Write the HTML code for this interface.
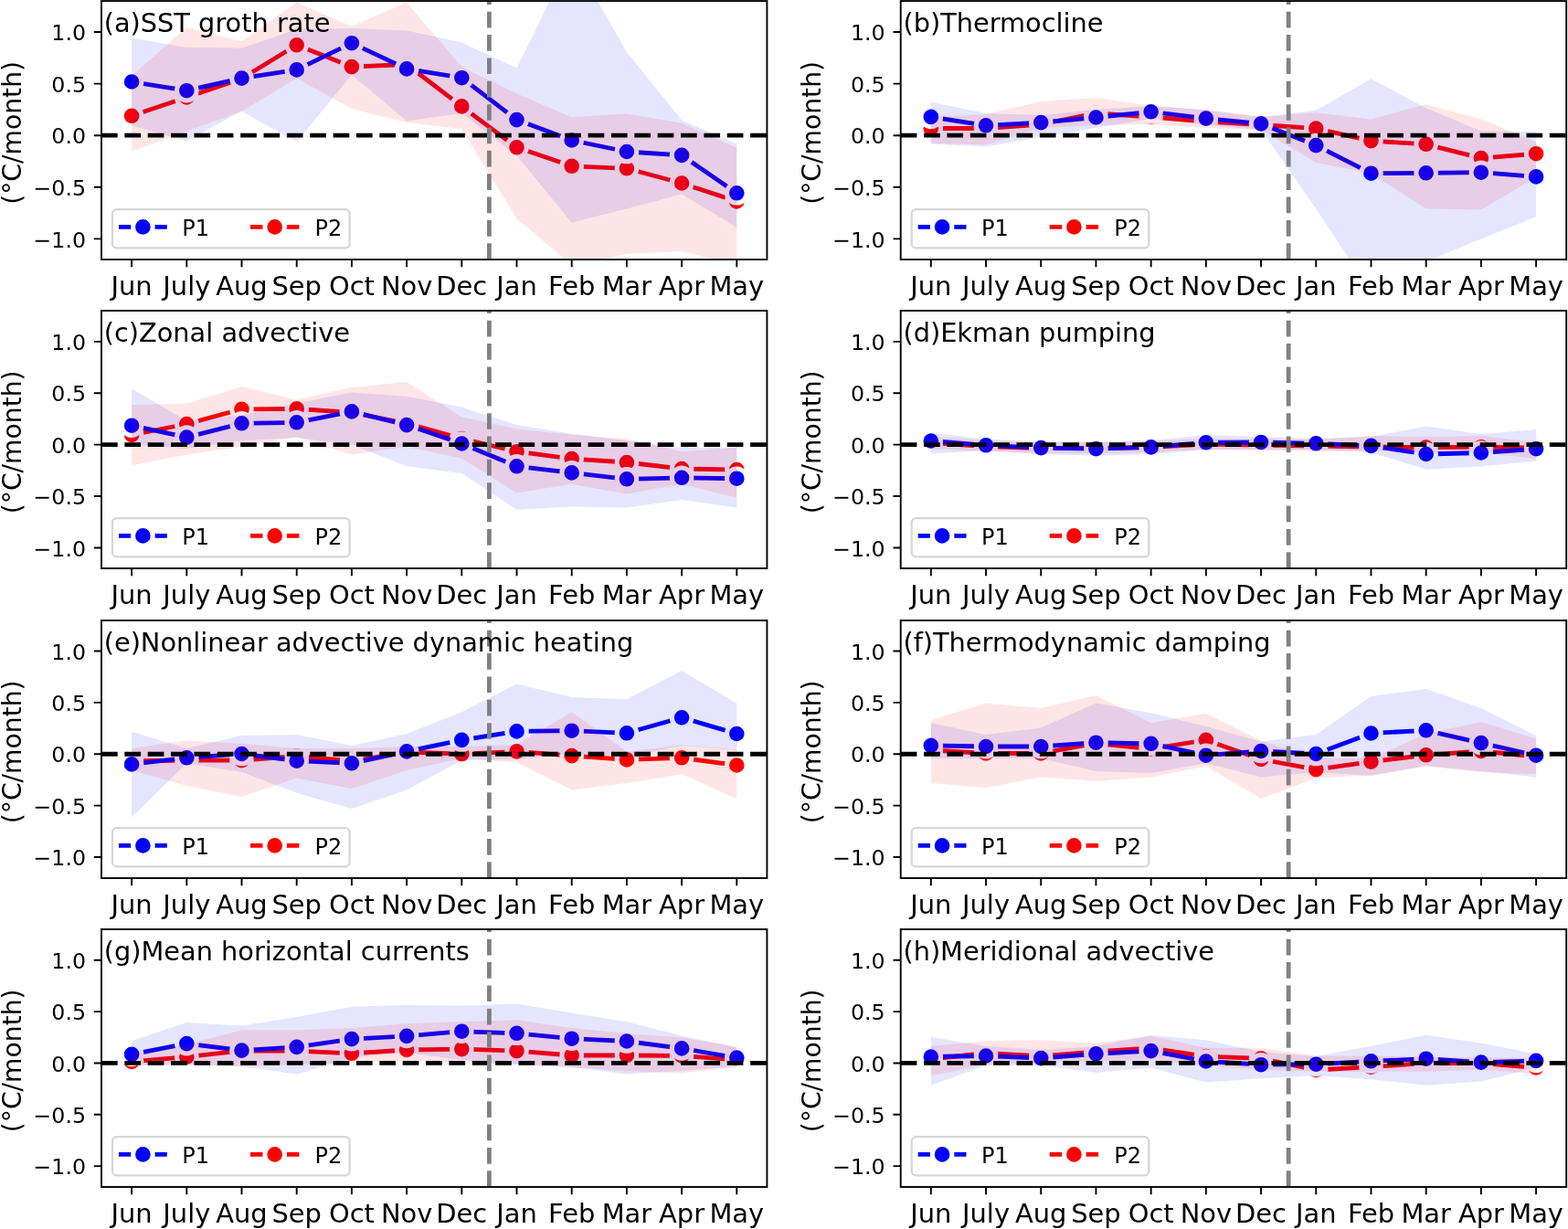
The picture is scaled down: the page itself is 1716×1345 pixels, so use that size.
<!DOCTYPE html>
<html><head><meta charset="utf-8"><title>Figure</title>
<style>html,body{margin:0;padding:0;background:#fff;overflow:hidden;} svg{display:block;} text{font-family:'DejaVu Sans', 'Liberation Sans', sans-serif;}</style>
</head><body>
<svg width="1716" height="1345" viewBox="0 0 1716 1345">
<rect x="0" y="0" width="1716" height="1345" fill="#ffffff"/>
<defs>
<clipPath id="clipa"><rect x="111" y="1.1" width="728.4" height="282.9"/></clipPath>
<clipPath id="clipb"><rect x="985.7" y="1.1" width="728.5" height="282.9"/></clipPath>
<clipPath id="clipc"><rect x="111" y="340" width="728.4" height="282"/></clipPath>
<clipPath id="clipd"><rect x="985.7" y="340" width="728.5" height="282"/></clipPath>
<clipPath id="clipe"><rect x="111" y="679" width="728.4" height="282"/></clipPath>
<clipPath id="clipf"><rect x="985.7" y="679" width="728.5" height="282"/></clipPath>
<clipPath id="clipg"><rect x="111" y="1017" width="728.4" height="282"/></clipPath>
<clipPath id="cliph"><rect x="985.7" y="1017" width="728.5" height="282"/></clipPath>
</defs>
<g clip-path="url(#clipa)">
<polyline points="144.11,126.8 204.31,106.5 264.51,86 324.7,49.3 384.9,73.1 445.1,70.5 505.3,116.4 565.5,161.3 625.7,181.8 685.89,184.3 746.09,200.5 806.29,220.4" fill="none" stroke="#ff0000" stroke-width="4.8" stroke-linejoin="round" stroke-linecap="square"/>
<circle cx="144.11" cy="126.8" r="10.8" fill="#ff0000" stroke="#ffffff" stroke-width="5.0"/>
<circle cx="204.31" cy="106.5" r="10.8" fill="#ff0000" stroke="#ffffff" stroke-width="5.0"/>
<circle cx="264.51" cy="86" r="10.8" fill="#ff0000" stroke="#ffffff" stroke-width="5.0"/>
<circle cx="324.7" cy="49.3" r="10.8" fill="#ff0000" stroke="#ffffff" stroke-width="5.0"/>
<circle cx="384.9" cy="73.1" r="10.8" fill="#ff0000" stroke="#ffffff" stroke-width="5.0"/>
<circle cx="445.1" cy="70.5" r="10.8" fill="#ff0000" stroke="#ffffff" stroke-width="5.0"/>
<circle cx="505.3" cy="116.4" r="10.8" fill="#ff0000" stroke="#ffffff" stroke-width="5.0"/>
<circle cx="565.5" cy="161.3" r="10.8" fill="#ff0000" stroke="#ffffff" stroke-width="5.0"/>
<circle cx="625.7" cy="181.8" r="10.8" fill="#ff0000" stroke="#ffffff" stroke-width="5.0"/>
<circle cx="685.89" cy="184.3" r="10.8" fill="#ff0000" stroke="#ffffff" stroke-width="5.0"/>
<circle cx="746.09" cy="200.5" r="10.8" fill="#ff0000" stroke="#ffffff" stroke-width="5.0"/>
<circle cx="806.29" cy="220.4" r="10.8" fill="#ff0000" stroke="#ffffff" stroke-width="5.0"/>
<polyline points="144.11,89.5 204.31,99.2 264.51,85.6 324.7,76.4 384.9,47.2 445.1,75.4 505.3,85.2 565.5,131.1 625.7,153.5 685.89,166 746.09,169.9 806.29,211.3" fill="none" stroke="#0000ff" stroke-width="4.8" stroke-linejoin="round" stroke-linecap="square"/>
<circle cx="144.11" cy="89.5" r="10.8" fill="#0000ff" stroke="#ffffff" stroke-width="5.0"/>
<circle cx="204.31" cy="99.2" r="10.8" fill="#0000ff" stroke="#ffffff" stroke-width="5.0"/>
<circle cx="264.51" cy="85.6" r="10.8" fill="#0000ff" stroke="#ffffff" stroke-width="5.0"/>
<circle cx="324.7" cy="76.4" r="10.8" fill="#0000ff" stroke="#ffffff" stroke-width="5.0"/>
<circle cx="384.9" cy="47.2" r="10.8" fill="#0000ff" stroke="#ffffff" stroke-width="5.0"/>
<circle cx="445.1" cy="75.4" r="10.8" fill="#0000ff" stroke="#ffffff" stroke-width="5.0"/>
<circle cx="505.3" cy="85.2" r="10.8" fill="#0000ff" stroke="#ffffff" stroke-width="5.0"/>
<circle cx="565.5" cy="131.1" r="10.8" fill="#0000ff" stroke="#ffffff" stroke-width="5.0"/>
<circle cx="625.7" cy="153.5" r="10.8" fill="#0000ff" stroke="#ffffff" stroke-width="5.0"/>
<circle cx="685.89" cy="166" r="10.8" fill="#0000ff" stroke="#ffffff" stroke-width="5.0"/>
<circle cx="746.09" cy="169.9" r="10.8" fill="#0000ff" stroke="#ffffff" stroke-width="5.0"/>
<circle cx="806.29" cy="211.3" r="10.8" fill="#0000ff" stroke="#ffffff" stroke-width="5.0"/>
<polygon points="144.11,41.4 204.31,52.1 264.51,52.7 324.7,32.1 384.9,31 445.1,33.5 505.3,46.4 565.5,74.4 625.7,-48.5 685.89,57.1 746.09,131.5 806.29,157.4 806.29,249 746.09,212.4 685.89,228.5 625.7,243.6 565.5,170.3 505.3,124 445.1,132.5 384.9,81.7 324.7,155.3 264.51,121.7 204.31,154.4 144.11,137.2" fill="#0000ff" fill-opacity="0.1" stroke="none"/>
<polygon points="144.11,83 204.31,30.1 264.51,45.6 324.7,2.7 384.9,28.8 445.1,2.7 505.3,73.3 565.5,102.4 625.7,128.3 685.89,124.6 746.09,134.8 806.29,161.7 806.29,290 746.09,275 685.89,278 625.7,290 565.5,239.3 505.3,141.2 445.1,133.9 384.9,119.1 324.7,85.7 264.51,121.7 204.31,143.7 144.11,165.7" fill="#ff0000" fill-opacity="0.1" stroke="none"/>
<line x1="111" y1="148.21" x2="839.4" y2="148.21" stroke="#000000" stroke-width="4.78" stroke-dasharray="17.7 7.66"/>
<line x1="535.4" y1="284" x2="535.4" y2="1.1" stroke="#808080" stroke-width="4.78" stroke-dasharray="17.7 7.66"/>
</g>
<text x="113.7" y="35" font-size="28.8" fill="#000">(a)SST groth rate</text>
<rect x="123" y="229.2" width="259.6" height="42.2" rx="4.6" ry="4.6" fill="#ffffff" fill-opacity="0.8" stroke="#d6d6d6" stroke-width="2.2"/>
<line x1="130" y1="248.4" x2="182.8" y2="248.4" stroke="#0000ff" stroke-width="4.8"/>
<circle cx="156.4" cy="248.4" r="10.8" fill="#0000ff" stroke="#ffffff" stroke-width="5.0"/>
<text x="199.3" y="257.7" font-size="24.0" fill="#000">P1</text>
<line x1="274" y1="248.4" x2="327.4" y2="248.4" stroke="#ff0000" stroke-width="4.8"/>
<circle cx="300.7" cy="248.4" r="10.8" fill="#ff0000" stroke="#ffffff" stroke-width="5.0"/>
<text x="344.6" y="257.7" font-size="24.0" fill="#000">P2</text>
<rect x="111" y="1.1" width="728.4" height="282.9" fill="none" stroke="#000" stroke-width="1.9"/>
<path d="M144.11,284v8.2 M204.31,284v8.2 M264.51,284v8.2 M324.7,284v8.2 M384.9,284v8.2 M445.1,284v8.2 M505.3,284v8.2 M565.5,284v8.2 M625.7,284v8.2 M685.89,284v8.2 M746.09,284v8.2 M806.29,284v8.2 M111,261.37h-8.2 M111,204.79h-8.2 M111,148.21h-8.2 M111,91.63h-8.2 M111,35.05h-8.2" stroke="#000" stroke-width="1.9" fill="none"/>
<text x="144.11" y="322.7" font-size="28.9" text-anchor="middle" fill="#000">Jun</text>
<text x="204.31" y="322.7" font-size="28.9" text-anchor="middle" fill="#000">July</text>
<text x="264.51" y="322.7" font-size="28.9" text-anchor="middle" fill="#000">Aug</text>
<text x="324.7" y="322.7" font-size="28.9" text-anchor="middle" fill="#000">Sep</text>
<text x="384.9" y="322.7" font-size="28.9" text-anchor="middle" fill="#000">Oct</text>
<text x="445.1" y="322.7" font-size="28.9" text-anchor="middle" fill="#000">Nov</text>
<text x="505.3" y="322.7" font-size="28.9" text-anchor="middle" fill="#000">Dec</text>
<text x="565.5" y="322.7" font-size="28.9" text-anchor="middle" fill="#000">Jan</text>
<text x="625.7" y="322.7" font-size="28.9" text-anchor="middle" fill="#000">Feb</text>
<text x="685.89" y="322.7" font-size="28.9" text-anchor="middle" fill="#000">Mar</text>
<text x="746.09" y="322.7" font-size="28.9" text-anchor="middle" fill="#000">Apr</text>
<text x="806.29" y="322.7" font-size="28.9" text-anchor="middle" fill="#000">May</text>
<text x="94" y="270.57" font-size="23.7" text-anchor="end" fill="#000">−1.0</text>
<text x="94" y="213.99" font-size="23.7" text-anchor="end" fill="#000">−0.5</text>
<text x="94" y="157.41" font-size="23.7" text-anchor="end" fill="#000">0.0</text>
<text x="94" y="100.83" font-size="23.7" text-anchor="end" fill="#000">0.5</text>
<text x="94" y="44.25" font-size="23.7" text-anchor="end" fill="#000">1.0</text>
<text transform="translate(22.8,145.35) rotate(-90)" font-size="28.2" text-anchor="middle" fill="#000">(°C/month)</text>
<g clip-path="url(#clipb)">
<polyline points="1018.81,140.5 1079.02,140.5 1139.23,136 1199.43,123.8 1259.64,128 1319.85,133 1380.05,136.5 1440.26,140.6 1500.47,154.2 1560.67,157.8 1620.88,173.1 1681.09,168.2" fill="none" stroke="#ff0000" stroke-width="4.8" stroke-linejoin="round" stroke-linecap="square"/>
<circle cx="1018.81" cy="140.5" r="10.8" fill="#ff0000" stroke="#ffffff" stroke-width="5.0"/>
<circle cx="1079.02" cy="140.5" r="10.8" fill="#ff0000" stroke="#ffffff" stroke-width="5.0"/>
<circle cx="1139.23" cy="136" r="10.8" fill="#ff0000" stroke="#ffffff" stroke-width="5.0"/>
<circle cx="1199.43" cy="123.8" r="10.8" fill="#ff0000" stroke="#ffffff" stroke-width="5.0"/>
<circle cx="1259.64" cy="128" r="10.8" fill="#ff0000" stroke="#ffffff" stroke-width="5.0"/>
<circle cx="1319.85" cy="133" r="10.8" fill="#ff0000" stroke="#ffffff" stroke-width="5.0"/>
<circle cx="1380.05" cy="136.5" r="10.8" fill="#ff0000" stroke="#ffffff" stroke-width="5.0"/>
<circle cx="1440.26" cy="140.6" r="10.8" fill="#ff0000" stroke="#ffffff" stroke-width="5.0"/>
<circle cx="1500.47" cy="154.2" r="10.8" fill="#ff0000" stroke="#ffffff" stroke-width="5.0"/>
<circle cx="1560.67" cy="157.8" r="10.8" fill="#ff0000" stroke="#ffffff" stroke-width="5.0"/>
<circle cx="1620.88" cy="173.1" r="10.8" fill="#ff0000" stroke="#ffffff" stroke-width="5.0"/>
<circle cx="1681.09" cy="168.2" r="10.8" fill="#ff0000" stroke="#ffffff" stroke-width="5.0"/>
<polyline points="1018.81,127.9 1079.02,137.3 1139.23,134.1 1199.43,128.5 1259.64,122.3 1319.85,129.6 1380.05,135.4 1440.26,159.1 1500.47,189.7 1560.67,189.3 1620.88,188.7 1681.09,193.4" fill="none" stroke="#0000ff" stroke-width="4.8" stroke-linejoin="round" stroke-linecap="square"/>
<circle cx="1018.81" cy="127.9" r="10.8" fill="#0000ff" stroke="#ffffff" stroke-width="5.0"/>
<circle cx="1079.02" cy="137.3" r="10.8" fill="#0000ff" stroke="#ffffff" stroke-width="5.0"/>
<circle cx="1139.23" cy="134.1" r="10.8" fill="#0000ff" stroke="#ffffff" stroke-width="5.0"/>
<circle cx="1199.43" cy="128.5" r="10.8" fill="#0000ff" stroke="#ffffff" stroke-width="5.0"/>
<circle cx="1259.64" cy="122.3" r="10.8" fill="#0000ff" stroke="#ffffff" stroke-width="5.0"/>
<circle cx="1319.85" cy="129.6" r="10.8" fill="#0000ff" stroke="#ffffff" stroke-width="5.0"/>
<circle cx="1380.05" cy="135.4" r="10.8" fill="#0000ff" stroke="#ffffff" stroke-width="5.0"/>
<circle cx="1440.26" cy="159.1" r="10.8" fill="#0000ff" stroke="#ffffff" stroke-width="5.0"/>
<circle cx="1500.47" cy="189.7" r="10.8" fill="#0000ff" stroke="#ffffff" stroke-width="5.0"/>
<circle cx="1560.67" cy="189.3" r="10.8" fill="#0000ff" stroke="#ffffff" stroke-width="5.0"/>
<circle cx="1620.88" cy="188.7" r="10.8" fill="#0000ff" stroke="#ffffff" stroke-width="5.0"/>
<circle cx="1681.09" cy="193.4" r="10.8" fill="#0000ff" stroke="#ffffff" stroke-width="5.0"/>
<polygon points="1018.81,111.7 1079.02,124 1139.23,126 1199.43,120 1259.64,116 1319.85,120 1380.05,128 1440.26,120.7 1500.47,86.2 1560.67,118.2 1620.88,143.4 1681.09,144 1681.09,237.2 1620.88,261.4 1560.67,286 1500.47,320 1440.26,228.5 1380.05,142 1319.85,137 1259.64,130 1199.43,140 1139.23,150 1079.02,160.6 1018.81,157.4" fill="#0000ff" fill-opacity="0.1" stroke="none"/>
<polygon points="1018.81,128 1079.02,125 1139.23,111 1199.43,107.2 1259.64,115.4 1319.85,120.7 1380.05,128 1440.26,123.3 1500.47,130.4 1560.67,114.3 1620.88,130.4 1681.09,155.2 1681.09,194 1620.88,229.6 1560.67,228.5 1500.47,189.7 1440.26,177.9 1380.05,142 1319.85,140 1259.64,136 1199.43,137 1139.23,140 1079.02,158.5 1018.81,156.7" fill="#ff0000" fill-opacity="0.1" stroke="none"/>
<line x1="985.7" y1="148.21" x2="1714.2" y2="148.21" stroke="#000000" stroke-width="4.78" stroke-dasharray="17.7 7.66"/>
<line x1="1410.16" y1="284" x2="1410.16" y2="1.1" stroke="#808080" stroke-width="4.78" stroke-dasharray="17.7 7.66"/>
</g>
<text x="988.4" y="35" font-size="28.8" fill="#000">(b)Thermocline</text>
<rect x="997.7" y="229.2" width="259.6" height="42.2" rx="4.6" ry="4.6" fill="#ffffff" fill-opacity="0.8" stroke="#d6d6d6" stroke-width="2.2"/>
<line x1="1004.7" y1="248.4" x2="1057.5" y2="248.4" stroke="#0000ff" stroke-width="4.8"/>
<circle cx="1031.1" cy="248.4" r="10.8" fill="#0000ff" stroke="#ffffff" stroke-width="5.0"/>
<text x="1074" y="257.7" font-size="24.0" fill="#000">P1</text>
<line x1="1148.7" y1="248.4" x2="1202.1" y2="248.4" stroke="#ff0000" stroke-width="4.8"/>
<circle cx="1175.4" cy="248.4" r="10.8" fill="#ff0000" stroke="#ffffff" stroke-width="5.0"/>
<text x="1219.3" y="257.7" font-size="24.0" fill="#000">P2</text>
<rect x="985.7" y="1.1" width="728.5" height="282.9" fill="none" stroke="#000" stroke-width="1.9"/>
<path d="M1018.81,284v8.2 M1079.02,284v8.2 M1139.23,284v8.2 M1199.43,284v8.2 M1259.64,284v8.2 M1319.85,284v8.2 M1380.05,284v8.2 M1440.26,284v8.2 M1500.47,284v8.2 M1560.67,284v8.2 M1620.88,284v8.2 M1681.09,284v8.2 M985.7,261.37h-8.2 M985.7,204.79h-8.2 M985.7,148.21h-8.2 M985.7,91.63h-8.2 M985.7,35.05h-8.2" stroke="#000" stroke-width="1.9" fill="none"/>
<text x="1018.81" y="322.7" font-size="28.9" text-anchor="middle" fill="#000">Jun</text>
<text x="1079.02" y="322.7" font-size="28.9" text-anchor="middle" fill="#000">July</text>
<text x="1139.23" y="322.7" font-size="28.9" text-anchor="middle" fill="#000">Aug</text>
<text x="1199.43" y="322.7" font-size="28.9" text-anchor="middle" fill="#000">Sep</text>
<text x="1259.64" y="322.7" font-size="28.9" text-anchor="middle" fill="#000">Oct</text>
<text x="1319.85" y="322.7" font-size="28.9" text-anchor="middle" fill="#000">Nov</text>
<text x="1380.05" y="322.7" font-size="28.9" text-anchor="middle" fill="#000">Dec</text>
<text x="1440.26" y="322.7" font-size="28.9" text-anchor="middle" fill="#000">Jan</text>
<text x="1500.47" y="322.7" font-size="28.9" text-anchor="middle" fill="#000">Feb</text>
<text x="1560.67" y="322.7" font-size="28.9" text-anchor="middle" fill="#000">Mar</text>
<text x="1620.88" y="322.7" font-size="28.9" text-anchor="middle" fill="#000">Apr</text>
<text x="1681.09" y="322.7" font-size="28.9" text-anchor="middle" fill="#000">May</text>
<text x="968.7" y="270.57" font-size="23.7" text-anchor="end" fill="#000">−1.0</text>
<text x="968.7" y="213.99" font-size="23.7" text-anchor="end" fill="#000">−0.5</text>
<text x="968.7" y="157.41" font-size="23.7" text-anchor="end" fill="#000">0.0</text>
<text x="968.7" y="100.83" font-size="23.7" text-anchor="end" fill="#000">0.5</text>
<text x="968.7" y="44.25" font-size="23.7" text-anchor="end" fill="#000">1.0</text>
<text transform="translate(897.5,145.35) rotate(-90)" font-size="28.2" text-anchor="middle" fill="#000">(°C/month)</text>
<g clip-path="url(#clipc)">
<polyline points="144.11,476 204.31,464 264.51,447.8 324.7,447.4 384.9,451.5 445.1,463.3 505.3,480 565.5,494.2 625.7,502.1 685.89,506 746.09,513 806.29,514" fill="none" stroke="#ff0000" stroke-width="4.8" stroke-linejoin="round" stroke-linecap="square"/>
<circle cx="144.11" cy="476" r="10.8" fill="#ff0000" stroke="#ffffff" stroke-width="5.0"/>
<circle cx="204.31" cy="464" r="10.8" fill="#ff0000" stroke="#ffffff" stroke-width="5.0"/>
<circle cx="264.51" cy="447.8" r="10.8" fill="#ff0000" stroke="#ffffff" stroke-width="5.0"/>
<circle cx="324.7" cy="447.4" r="10.8" fill="#ff0000" stroke="#ffffff" stroke-width="5.0"/>
<circle cx="384.9" cy="451.5" r="10.8" fill="#ff0000" stroke="#ffffff" stroke-width="5.0"/>
<circle cx="445.1" cy="463.3" r="10.8" fill="#ff0000" stroke="#ffffff" stroke-width="5.0"/>
<circle cx="505.3" cy="480" r="10.8" fill="#ff0000" stroke="#ffffff" stroke-width="5.0"/>
<circle cx="565.5" cy="494.2" r="10.8" fill="#ff0000" stroke="#ffffff" stroke-width="5.0"/>
<circle cx="625.7" cy="502.1" r="10.8" fill="#ff0000" stroke="#ffffff" stroke-width="5.0"/>
<circle cx="685.89" cy="506" r="10.8" fill="#ff0000" stroke="#ffffff" stroke-width="5.0"/>
<circle cx="746.09" cy="513" r="10.8" fill="#ff0000" stroke="#ffffff" stroke-width="5.0"/>
<circle cx="806.29" cy="514" r="10.8" fill="#ff0000" stroke="#ffffff" stroke-width="5.0"/>
<polyline points="144.11,465.7 204.31,478.6 264.51,463.3 324.7,462.3 384.9,450.4 445.1,465.1 505.3,485.5 565.5,510.3 625.7,517.4 685.89,524.3 746.09,522.8 806.29,523.7" fill="none" stroke="#0000ff" stroke-width="4.8" stroke-linejoin="round" stroke-linecap="square"/>
<circle cx="144.11" cy="465.7" r="10.8" fill="#0000ff" stroke="#ffffff" stroke-width="5.0"/>
<circle cx="204.31" cy="478.6" r="10.8" fill="#0000ff" stroke="#ffffff" stroke-width="5.0"/>
<circle cx="264.51" cy="463.3" r="10.8" fill="#0000ff" stroke="#ffffff" stroke-width="5.0"/>
<circle cx="324.7" cy="462.3" r="10.8" fill="#0000ff" stroke="#ffffff" stroke-width="5.0"/>
<circle cx="384.9" cy="450.4" r="10.8" fill="#0000ff" stroke="#ffffff" stroke-width="5.0"/>
<circle cx="445.1" cy="465.1" r="10.8" fill="#0000ff" stroke="#ffffff" stroke-width="5.0"/>
<circle cx="505.3" cy="485.5" r="10.8" fill="#0000ff" stroke="#ffffff" stroke-width="5.0"/>
<circle cx="565.5" cy="510.3" r="10.8" fill="#0000ff" stroke="#ffffff" stroke-width="5.0"/>
<circle cx="625.7" cy="517.4" r="10.8" fill="#0000ff" stroke="#ffffff" stroke-width="5.0"/>
<circle cx="685.89" cy="524.3" r="10.8" fill="#0000ff" stroke="#ffffff" stroke-width="5.0"/>
<circle cx="746.09" cy="522.8" r="10.8" fill="#0000ff" stroke="#ffffff" stroke-width="5.0"/>
<circle cx="806.29" cy="523.7" r="10.8" fill="#0000ff" stroke="#ffffff" stroke-width="5.0"/>
<polygon points="144.11,425.2 204.31,460.7 264.51,454.3 324.7,441.3 384.9,429.5 445.1,433.8 505.3,445.6 565.5,465.1 625.7,474.8 685.89,482.3 746.09,490 806.29,489.9 806.29,555.6 746.09,547 685.89,555.6 625.7,554.5 565.5,557.8 505.3,517.9 445.1,510.3 384.9,486.6 324.7,479.1 264.51,482.3 204.31,490.9 144.11,486.6" fill="#0000ff" fill-opacity="0.1" stroke="none"/>
<polygon points="144.11,443.1 204.31,441.8 264.51,423 324.7,437.5 384.9,424.1 445.1,418.1 505.3,456.4 565.5,469.4 625.7,475.8 685.89,480.1 746.09,494.2 806.29,489.9 806.29,544.8 746.09,529.7 685.89,540.5 625.7,529.7 565.5,539.4 505.3,501.7 445.1,488.8 384.9,497.4 324.7,478 264.51,488.8 204.31,497.4 144.11,509.3" fill="#ff0000" fill-opacity="0.1" stroke="none"/>
<line x1="111" y1="486.64" x2="839.4" y2="486.64" stroke="#000000" stroke-width="4.78" stroke-dasharray="17.7 7.66"/>
<line x1="535.4" y1="622" x2="535.4" y2="340" stroke="#808080" stroke-width="4.78" stroke-dasharray="17.7 7.66"/>
</g>
<text x="113.7" y="373.9" font-size="28.8" fill="#000">(c)Zonal advective</text>
<rect x="123" y="567.2" width="259.6" height="42.2" rx="4.6" ry="4.6" fill="#ffffff" fill-opacity="0.8" stroke="#d6d6d6" stroke-width="2.2"/>
<line x1="130" y1="586.4" x2="182.8" y2="586.4" stroke="#0000ff" stroke-width="4.8"/>
<circle cx="156.4" cy="586.4" r="10.8" fill="#0000ff" stroke="#ffffff" stroke-width="5.0"/>
<text x="199.3" y="595.7" font-size="24.0" fill="#000">P1</text>
<line x1="274" y1="586.4" x2="327.4" y2="586.4" stroke="#ff0000" stroke-width="4.8"/>
<circle cx="300.7" cy="586.4" r="10.8" fill="#ff0000" stroke="#ffffff" stroke-width="5.0"/>
<text x="344.6" y="595.7" font-size="24.0" fill="#000">P2</text>
<rect x="111" y="340" width="728.4" height="282" fill="none" stroke="#000" stroke-width="1.9"/>
<path d="M144.11,622v8.2 M204.31,622v8.2 M264.51,622v8.2 M324.7,622v8.2 M384.9,622v8.2 M445.1,622v8.2 M505.3,622v8.2 M565.5,622v8.2 M625.7,622v8.2 M685.89,622v8.2 M746.09,622v8.2 M806.29,622v8.2 M111,599.44h-8.2 M111,543.04h-8.2 M111,486.64h-8.2 M111,430.24h-8.2 M111,373.84h-8.2" stroke="#000" stroke-width="1.9" fill="none"/>
<text x="144.11" y="660.7" font-size="28.9" text-anchor="middle" fill="#000">Jun</text>
<text x="204.31" y="660.7" font-size="28.9" text-anchor="middle" fill="#000">July</text>
<text x="264.51" y="660.7" font-size="28.9" text-anchor="middle" fill="#000">Aug</text>
<text x="324.7" y="660.7" font-size="28.9" text-anchor="middle" fill="#000">Sep</text>
<text x="384.9" y="660.7" font-size="28.9" text-anchor="middle" fill="#000">Oct</text>
<text x="445.1" y="660.7" font-size="28.9" text-anchor="middle" fill="#000">Nov</text>
<text x="505.3" y="660.7" font-size="28.9" text-anchor="middle" fill="#000">Dec</text>
<text x="565.5" y="660.7" font-size="28.9" text-anchor="middle" fill="#000">Jan</text>
<text x="625.7" y="660.7" font-size="28.9" text-anchor="middle" fill="#000">Feb</text>
<text x="685.89" y="660.7" font-size="28.9" text-anchor="middle" fill="#000">Mar</text>
<text x="746.09" y="660.7" font-size="28.9" text-anchor="middle" fill="#000">Apr</text>
<text x="806.29" y="660.7" font-size="28.9" text-anchor="middle" fill="#000">May</text>
<text x="94" y="608.64" font-size="23.7" text-anchor="end" fill="#000">−1.0</text>
<text x="94" y="552.24" font-size="23.7" text-anchor="end" fill="#000">−0.5</text>
<text x="94" y="495.84" font-size="23.7" text-anchor="end" fill="#000">0.0</text>
<text x="94" y="439.44" font-size="23.7" text-anchor="end" fill="#000">0.5</text>
<text x="94" y="383.04" font-size="23.7" text-anchor="end" fill="#000">1.0</text>
<text transform="translate(22.8,483.8) rotate(-90)" font-size="28.2" text-anchor="middle" fill="#000">(°C/month)</text>
<g clip-path="url(#clipd)">
<polyline points="1018.81,484.5 1079.02,488.5 1139.23,490.5 1199.43,490.5 1259.64,489.5 1319.85,486 1380.05,487 1440.26,488 1500.47,489 1560.67,489.6 1620.88,489.2 1681.09,490" fill="none" stroke="#ff0000" stroke-width="4.8" stroke-linejoin="round" stroke-linecap="square"/>
<circle cx="1018.81" cy="484.5" r="10.8" fill="#ff0000" stroke="#ffffff" stroke-width="5.0"/>
<circle cx="1079.02" cy="488.5" r="10.8" fill="#ff0000" stroke="#ffffff" stroke-width="5.0"/>
<circle cx="1139.23" cy="490.5" r="10.8" fill="#ff0000" stroke="#ffffff" stroke-width="5.0"/>
<circle cx="1199.43" cy="490.5" r="10.8" fill="#ff0000" stroke="#ffffff" stroke-width="5.0"/>
<circle cx="1259.64" cy="489.5" r="10.8" fill="#ff0000" stroke="#ffffff" stroke-width="5.0"/>
<circle cx="1319.85" cy="486" r="10.8" fill="#ff0000" stroke="#ffffff" stroke-width="5.0"/>
<circle cx="1380.05" cy="487" r="10.8" fill="#ff0000" stroke="#ffffff" stroke-width="5.0"/>
<circle cx="1440.26" cy="488" r="10.8" fill="#ff0000" stroke="#ffffff" stroke-width="5.0"/>
<circle cx="1500.47" cy="489" r="10.8" fill="#ff0000" stroke="#ffffff" stroke-width="5.0"/>
<circle cx="1560.67" cy="489.6" r="10.8" fill="#ff0000" stroke="#ffffff" stroke-width="5.0"/>
<circle cx="1620.88" cy="489.2" r="10.8" fill="#ff0000" stroke="#ffffff" stroke-width="5.0"/>
<circle cx="1681.09" cy="490" r="10.8" fill="#ff0000" stroke="#ffffff" stroke-width="5.0"/>
<polyline points="1018.81,482.5 1079.02,487.3 1139.23,490.1 1199.43,491.2 1259.64,489.4 1319.85,484.3 1380.05,484 1440.26,485.3 1500.47,487.9 1560.67,497 1620.88,495.5 1681.09,491.2" fill="none" stroke="#0000ff" stroke-width="4.8" stroke-linejoin="round" stroke-linecap="square"/>
<circle cx="1018.81" cy="482.5" r="10.8" fill="#0000ff" stroke="#ffffff" stroke-width="5.0"/>
<circle cx="1079.02" cy="487.3" r="10.8" fill="#0000ff" stroke="#ffffff" stroke-width="5.0"/>
<circle cx="1139.23" cy="490.1" r="10.8" fill="#0000ff" stroke="#ffffff" stroke-width="5.0"/>
<circle cx="1199.43" cy="491.2" r="10.8" fill="#0000ff" stroke="#ffffff" stroke-width="5.0"/>
<circle cx="1259.64" cy="489.4" r="10.8" fill="#0000ff" stroke="#ffffff" stroke-width="5.0"/>
<circle cx="1319.85" cy="484.3" r="10.8" fill="#0000ff" stroke="#ffffff" stroke-width="5.0"/>
<circle cx="1380.05" cy="484" r="10.8" fill="#0000ff" stroke="#ffffff" stroke-width="5.0"/>
<circle cx="1440.26" cy="485.3" r="10.8" fill="#0000ff" stroke="#ffffff" stroke-width="5.0"/>
<circle cx="1500.47" cy="487.9" r="10.8" fill="#0000ff" stroke="#ffffff" stroke-width="5.0"/>
<circle cx="1560.67" cy="497" r="10.8" fill="#0000ff" stroke="#ffffff" stroke-width="5.0"/>
<circle cx="1620.88" cy="495.5" r="10.8" fill="#0000ff" stroke="#ffffff" stroke-width="5.0"/>
<circle cx="1681.09" cy="491.2" r="10.8" fill="#0000ff" stroke="#ffffff" stroke-width="5.0"/>
<polygon points="1018.81,473.5 1079.02,480.4 1139.23,483.6 1199.43,483.6 1259.64,482 1319.85,476 1380.05,478 1440.26,480 1500.47,478 1560.67,466.4 1620.88,475 1681.09,470 1681.09,504.5 1620.88,510.6 1560.67,513.8 1500.47,495 1440.26,492 1380.05,492 1319.85,492 1259.64,497 1199.43,498.7 1139.23,497 1079.02,493.3 1018.81,496.5" fill="#0000ff" fill-opacity="0.1" stroke="none"/>
<polygon points="1018.81,478 1079.02,482 1139.23,484 1199.43,484 1259.64,483 1319.85,480 1380.05,480 1440.26,481 1500.47,477 1560.67,478 1620.88,477 1681.09,484 1681.09,502 1620.88,495 1560.67,495 1500.47,493 1440.26,494 1380.05,493 1319.85,492 1259.64,495 1199.43,496 1139.23,496 1079.02,494 1018.81,491" fill="#ff0000" fill-opacity="0.1" stroke="none"/>
<line x1="985.7" y1="486.64" x2="1714.2" y2="486.64" stroke="#000000" stroke-width="4.78" stroke-dasharray="17.7 7.66"/>
<line x1="1410.16" y1="622" x2="1410.16" y2="340" stroke="#808080" stroke-width="4.78" stroke-dasharray="17.7 7.66"/>
</g>
<text x="988.4" y="373.9" font-size="28.8" fill="#000">(d)Ekman pumping</text>
<rect x="997.7" y="567.2" width="259.6" height="42.2" rx="4.6" ry="4.6" fill="#ffffff" fill-opacity="0.8" stroke="#d6d6d6" stroke-width="2.2"/>
<line x1="1004.7" y1="586.4" x2="1057.5" y2="586.4" stroke="#0000ff" stroke-width="4.8"/>
<circle cx="1031.1" cy="586.4" r="10.8" fill="#0000ff" stroke="#ffffff" stroke-width="5.0"/>
<text x="1074" y="595.7" font-size="24.0" fill="#000">P1</text>
<line x1="1148.7" y1="586.4" x2="1202.1" y2="586.4" stroke="#ff0000" stroke-width="4.8"/>
<circle cx="1175.4" cy="586.4" r="10.8" fill="#ff0000" stroke="#ffffff" stroke-width="5.0"/>
<text x="1219.3" y="595.7" font-size="24.0" fill="#000">P2</text>
<rect x="985.7" y="340" width="728.5" height="282" fill="none" stroke="#000" stroke-width="1.9"/>
<path d="M1018.81,622v8.2 M1079.02,622v8.2 M1139.23,622v8.2 M1199.43,622v8.2 M1259.64,622v8.2 M1319.85,622v8.2 M1380.05,622v8.2 M1440.26,622v8.2 M1500.47,622v8.2 M1560.67,622v8.2 M1620.88,622v8.2 M1681.09,622v8.2 M985.7,599.44h-8.2 M985.7,543.04h-8.2 M985.7,486.64h-8.2 M985.7,430.24h-8.2 M985.7,373.84h-8.2" stroke="#000" stroke-width="1.9" fill="none"/>
<text x="1018.81" y="660.7" font-size="28.9" text-anchor="middle" fill="#000">Jun</text>
<text x="1079.02" y="660.7" font-size="28.9" text-anchor="middle" fill="#000">July</text>
<text x="1139.23" y="660.7" font-size="28.9" text-anchor="middle" fill="#000">Aug</text>
<text x="1199.43" y="660.7" font-size="28.9" text-anchor="middle" fill="#000">Sep</text>
<text x="1259.64" y="660.7" font-size="28.9" text-anchor="middle" fill="#000">Oct</text>
<text x="1319.85" y="660.7" font-size="28.9" text-anchor="middle" fill="#000">Nov</text>
<text x="1380.05" y="660.7" font-size="28.9" text-anchor="middle" fill="#000">Dec</text>
<text x="1440.26" y="660.7" font-size="28.9" text-anchor="middle" fill="#000">Jan</text>
<text x="1500.47" y="660.7" font-size="28.9" text-anchor="middle" fill="#000">Feb</text>
<text x="1560.67" y="660.7" font-size="28.9" text-anchor="middle" fill="#000">Mar</text>
<text x="1620.88" y="660.7" font-size="28.9" text-anchor="middle" fill="#000">Apr</text>
<text x="1681.09" y="660.7" font-size="28.9" text-anchor="middle" fill="#000">May</text>
<text x="968.7" y="608.64" font-size="23.7" text-anchor="end" fill="#000">−1.0</text>
<text x="968.7" y="552.24" font-size="23.7" text-anchor="end" fill="#000">−0.5</text>
<text x="968.7" y="495.84" font-size="23.7" text-anchor="end" fill="#000">0.0</text>
<text x="968.7" y="439.44" font-size="23.7" text-anchor="end" fill="#000">0.5</text>
<text x="968.7" y="383.04" font-size="23.7" text-anchor="end" fill="#000">1.0</text>
<text transform="translate(897.5,483.8) rotate(-90)" font-size="28.2" text-anchor="middle" fill="#000">(°C/month)</text>
<g clip-path="url(#clipe)">
<polyline points="144.11,833 204.31,832 264.51,832.1 324.7,827.5 384.9,833 445.1,823 505.3,825.2 565.5,822.4 625.7,827.1 685.89,831.4 746.09,829.3 806.29,837.5" fill="none" stroke="#ff0000" stroke-width="4.8" stroke-linejoin="round" stroke-linecap="square"/>
<circle cx="144.11" cy="833" r="10.8" fill="#ff0000" stroke="#ffffff" stroke-width="5.0"/>
<circle cx="204.31" cy="832" r="10.8" fill="#ff0000" stroke="#ffffff" stroke-width="5.0"/>
<circle cx="264.51" cy="832.1" r="10.8" fill="#ff0000" stroke="#ffffff" stroke-width="5.0"/>
<circle cx="324.7" cy="827.5" r="10.8" fill="#ff0000" stroke="#ffffff" stroke-width="5.0"/>
<circle cx="384.9" cy="833" r="10.8" fill="#ff0000" stroke="#ffffff" stroke-width="5.0"/>
<circle cx="445.1" cy="823" r="10.8" fill="#ff0000" stroke="#ffffff" stroke-width="5.0"/>
<circle cx="505.3" cy="825.2" r="10.8" fill="#ff0000" stroke="#ffffff" stroke-width="5.0"/>
<circle cx="565.5" cy="822.4" r="10.8" fill="#ff0000" stroke="#ffffff" stroke-width="5.0"/>
<circle cx="625.7" cy="827.1" r="10.8" fill="#ff0000" stroke="#ffffff" stroke-width="5.0"/>
<circle cx="685.89" cy="831.4" r="10.8" fill="#ff0000" stroke="#ffffff" stroke-width="5.0"/>
<circle cx="746.09" cy="829.3" r="10.8" fill="#ff0000" stroke="#ffffff" stroke-width="5.0"/>
<circle cx="806.29" cy="837.5" r="10.8" fill="#ff0000" stroke="#ffffff" stroke-width="5.0"/>
<polyline points="144.11,836.4 204.31,829.3 264.51,825 324.7,832.7 384.9,835.3 445.1,822.4 505.3,809.9 565.5,800.4 625.7,799.7 685.89,802.3 746.09,785.3 806.29,803" fill="none" stroke="#0000ff" stroke-width="4.8" stroke-linejoin="round" stroke-linecap="square"/>
<circle cx="144.11" cy="836.4" r="10.8" fill="#0000ff" stroke="#ffffff" stroke-width="5.0"/>
<circle cx="204.31" cy="829.3" r="10.8" fill="#0000ff" stroke="#ffffff" stroke-width="5.0"/>
<circle cx="264.51" cy="825" r="10.8" fill="#0000ff" stroke="#ffffff" stroke-width="5.0"/>
<circle cx="324.7" cy="832.7" r="10.8" fill="#0000ff" stroke="#ffffff" stroke-width="5.0"/>
<circle cx="384.9" cy="835.3" r="10.8" fill="#0000ff" stroke="#ffffff" stroke-width="5.0"/>
<circle cx="445.1" cy="822.4" r="10.8" fill="#0000ff" stroke="#ffffff" stroke-width="5.0"/>
<circle cx="505.3" cy="809.9" r="10.8" fill="#0000ff" stroke="#ffffff" stroke-width="5.0"/>
<circle cx="565.5" cy="800.4" r="10.8" fill="#0000ff" stroke="#ffffff" stroke-width="5.0"/>
<circle cx="625.7" cy="799.7" r="10.8" fill="#0000ff" stroke="#ffffff" stroke-width="5.0"/>
<circle cx="685.89" cy="802.3" r="10.8" fill="#0000ff" stroke="#ffffff" stroke-width="5.0"/>
<circle cx="746.09" cy="785.3" r="10.8" fill="#0000ff" stroke="#ffffff" stroke-width="5.0"/>
<circle cx="806.29" cy="803" r="10.8" fill="#0000ff" stroke="#ffffff" stroke-width="5.0"/>
<polygon points="144.11,800.8 204.31,819.1 264.51,805.1 324.7,804 384.9,815.9 445.1,803 505.3,779.3 565.5,748.4 625.7,763.1 685.89,765.2 746.09,734 806.29,769.6 806.29,821.3 746.09,815.9 685.89,829 625.7,825 565.5,831 505.3,832.1 445.1,864.4 384.9,884.9 324.7,867.7 264.51,845 204.31,835.3 144.11,894.6" fill="#0000ff" fill-opacity="0.1" stroke="none"/>
<polygon points="144.11,819.1 204.31,810.5 264.51,813.8 324.7,819.1 384.9,819.1 445.1,817 505.3,817 565.5,814.8 625.7,779.3 685.89,822.4 746.09,815.3 806.29,820.2 806.29,874.1 746.09,847.2 685.89,856.9 625.7,864.4 565.5,834.2 505.3,829.9 445.1,842.9 384.9,863.3 324.7,851.5 264.51,872 204.31,860.1 144.11,842.9" fill="#ff0000" fill-opacity="0.1" stroke="none"/>
<line x1="111" y1="825.24" x2="839.4" y2="825.24" stroke="#000000" stroke-width="4.78" stroke-dasharray="17.7 7.66"/>
<line x1="535.4" y1="961" x2="535.4" y2="679" stroke="#808080" stroke-width="4.78" stroke-dasharray="17.7 7.66"/>
</g>
<text x="113.7" y="712.9" font-size="28.8" fill="#000">(e)Nonlinear advective dynamic heating</text>
<rect x="123" y="906.2" width="259.6" height="42.2" rx="4.6" ry="4.6" fill="#ffffff" fill-opacity="0.8" stroke="#d6d6d6" stroke-width="2.2"/>
<line x1="130" y1="925.4" x2="182.8" y2="925.4" stroke="#0000ff" stroke-width="4.8"/>
<circle cx="156.4" cy="925.4" r="10.8" fill="#0000ff" stroke="#ffffff" stroke-width="5.0"/>
<text x="199.3" y="934.7" font-size="24.0" fill="#000">P1</text>
<line x1="274" y1="925.4" x2="327.4" y2="925.4" stroke="#ff0000" stroke-width="4.8"/>
<circle cx="300.7" cy="925.4" r="10.8" fill="#ff0000" stroke="#ffffff" stroke-width="5.0"/>
<text x="344.6" y="934.7" font-size="24.0" fill="#000">P2</text>
<rect x="111" y="679" width="728.4" height="282" fill="none" stroke="#000" stroke-width="1.9"/>
<path d="M144.11,961v8.2 M204.31,961v8.2 M264.51,961v8.2 M324.7,961v8.2 M384.9,961v8.2 M445.1,961v8.2 M505.3,961v8.2 M565.5,961v8.2 M625.7,961v8.2 M685.89,961v8.2 M746.09,961v8.2 M806.29,961v8.2 M111,938.04h-8.2 M111,881.64h-8.2 M111,825.24h-8.2 M111,768.84h-8.2 M111,712.44h-8.2" stroke="#000" stroke-width="1.9" fill="none"/>
<text x="144.11" y="999.7" font-size="28.9" text-anchor="middle" fill="#000">Jun</text>
<text x="204.31" y="999.7" font-size="28.9" text-anchor="middle" fill="#000">July</text>
<text x="264.51" y="999.7" font-size="28.9" text-anchor="middle" fill="#000">Aug</text>
<text x="324.7" y="999.7" font-size="28.9" text-anchor="middle" fill="#000">Sep</text>
<text x="384.9" y="999.7" font-size="28.9" text-anchor="middle" fill="#000">Oct</text>
<text x="445.1" y="999.7" font-size="28.9" text-anchor="middle" fill="#000">Nov</text>
<text x="505.3" y="999.7" font-size="28.9" text-anchor="middle" fill="#000">Dec</text>
<text x="565.5" y="999.7" font-size="28.9" text-anchor="middle" fill="#000">Jan</text>
<text x="625.7" y="999.7" font-size="28.9" text-anchor="middle" fill="#000">Feb</text>
<text x="685.89" y="999.7" font-size="28.9" text-anchor="middle" fill="#000">Mar</text>
<text x="746.09" y="999.7" font-size="28.9" text-anchor="middle" fill="#000">Apr</text>
<text x="806.29" y="999.7" font-size="28.9" text-anchor="middle" fill="#000">May</text>
<text x="94" y="947.24" font-size="23.7" text-anchor="end" fill="#000">−1.0</text>
<text x="94" y="890.84" font-size="23.7" text-anchor="end" fill="#000">−0.5</text>
<text x="94" y="834.44" font-size="23.7" text-anchor="end" fill="#000">0.0</text>
<text x="94" y="778.04" font-size="23.7" text-anchor="end" fill="#000">0.5</text>
<text x="94" y="721.64" font-size="23.7" text-anchor="end" fill="#000">1.0</text>
<text transform="translate(22.8,822.8) rotate(-90)" font-size="28.2" text-anchor="middle" fill="#000">(°C/month)</text>
<g clip-path="url(#clipf)">
<polyline points="1018.81,821 1079.02,824.5 1139.23,824.4 1199.43,813.5 1259.64,819.5 1319.85,809.9 1380.05,831 1440.26,842.2 1500.47,833.6 1560.67,826.3 1620.88,822 1681.09,828" fill="none" stroke="#ff0000" stroke-width="4.8" stroke-linejoin="round" stroke-linecap="square"/>
<circle cx="1018.81" cy="821" r="10.8" fill="#ff0000" stroke="#ffffff" stroke-width="5.0"/>
<circle cx="1079.02" cy="824.5" r="10.8" fill="#ff0000" stroke="#ffffff" stroke-width="5.0"/>
<circle cx="1139.23" cy="824.4" r="10.8" fill="#ff0000" stroke="#ffffff" stroke-width="5.0"/>
<circle cx="1199.43" cy="813.5" r="10.8" fill="#ff0000" stroke="#ffffff" stroke-width="5.0"/>
<circle cx="1259.64" cy="819.5" r="10.8" fill="#ff0000" stroke="#ffffff" stroke-width="5.0"/>
<circle cx="1319.85" cy="809.9" r="10.8" fill="#ff0000" stroke="#ffffff" stroke-width="5.0"/>
<circle cx="1380.05" cy="831" r="10.8" fill="#ff0000" stroke="#ffffff" stroke-width="5.0"/>
<circle cx="1440.26" cy="842.2" r="10.8" fill="#ff0000" stroke="#ffffff" stroke-width="5.0"/>
<circle cx="1500.47" cy="833.6" r="10.8" fill="#ff0000" stroke="#ffffff" stroke-width="5.0"/>
<circle cx="1560.67" cy="826.3" r="10.8" fill="#ff0000" stroke="#ffffff" stroke-width="5.0"/>
<circle cx="1620.88" cy="822" r="10.8" fill="#ff0000" stroke="#ffffff" stroke-width="5.0"/>
<circle cx="1681.09" cy="828" r="10.8" fill="#ff0000" stroke="#ffffff" stroke-width="5.0"/>
<polyline points="1018.81,815.9 1079.02,817 1139.23,817 1199.43,812.7 1259.64,813.8 1319.85,826.7 1380.05,822 1440.26,825 1500.47,802.5 1560.67,799.3 1620.88,813.1 1681.09,826.7" fill="none" stroke="#0000ff" stroke-width="4.8" stroke-linejoin="round" stroke-linecap="square"/>
<circle cx="1018.81" cy="815.9" r="10.8" fill="#0000ff" stroke="#ffffff" stroke-width="5.0"/>
<circle cx="1079.02" cy="817" r="10.8" fill="#0000ff" stroke="#ffffff" stroke-width="5.0"/>
<circle cx="1139.23" cy="817" r="10.8" fill="#0000ff" stroke="#ffffff" stroke-width="5.0"/>
<circle cx="1199.43" cy="812.7" r="10.8" fill="#0000ff" stroke="#ffffff" stroke-width="5.0"/>
<circle cx="1259.64" cy="813.8" r="10.8" fill="#0000ff" stroke="#ffffff" stroke-width="5.0"/>
<circle cx="1319.85" cy="826.7" r="10.8" fill="#0000ff" stroke="#ffffff" stroke-width="5.0"/>
<circle cx="1380.05" cy="822" r="10.8" fill="#0000ff" stroke="#ffffff" stroke-width="5.0"/>
<circle cx="1440.26" cy="825" r="10.8" fill="#0000ff" stroke="#ffffff" stroke-width="5.0"/>
<circle cx="1500.47" cy="802.5" r="10.8" fill="#0000ff" stroke="#ffffff" stroke-width="5.0"/>
<circle cx="1560.67" cy="799.3" r="10.8" fill="#0000ff" stroke="#ffffff" stroke-width="5.0"/>
<circle cx="1620.88" cy="813.1" r="10.8" fill="#0000ff" stroke="#ffffff" stroke-width="5.0"/>
<circle cx="1681.09" cy="826.7" r="10.8" fill="#0000ff" stroke="#ffffff" stroke-width="5.0"/>
<polygon points="1018.81,791.1 1079.02,804.1 1139.23,796.5 1199.43,769.6 1259.64,780.3 1319.85,795 1380.05,811.6 1440.26,804.1 1500.47,762 1560.67,754 1620.88,774.9 1681.09,805.1 1681.09,850.4 1620.88,844 1560.67,838 1500.47,849.3 1440.26,845 1380.05,850.4 1319.85,835.3 1259.64,846.1 1199.43,844 1139.23,830 1079.02,830 1018.81,830" fill="#0000ff" fill-opacity="0.1" stroke="none"/>
<polygon points="1018.81,787.9 1079.02,769.6 1139.23,774.9 1199.43,760.9 1259.64,791.1 1319.85,780.8 1380.05,810.5 1440.26,830 1500.47,830 1560.67,803 1620.88,790 1681.09,808.4 1681.09,847.2 1620.88,845 1560.67,838.6 1500.47,848.3 1440.26,851.5 1380.05,874.1 1319.85,838.6 1259.64,850.4 1199.43,854.7 1139.23,850.4 1079.02,862.3 1018.81,856.9" fill="#ff0000" fill-opacity="0.1" stroke="none"/>
<line x1="985.7" y1="825.24" x2="1714.2" y2="825.24" stroke="#000000" stroke-width="4.78" stroke-dasharray="17.7 7.66"/>
<line x1="1410.16" y1="961" x2="1410.16" y2="679" stroke="#808080" stroke-width="4.78" stroke-dasharray="17.7 7.66"/>
</g>
<text x="988.4" y="712.9" font-size="28.8" fill="#000">(f)Thermodynamic damping</text>
<rect x="997.7" y="906.2" width="259.6" height="42.2" rx="4.6" ry="4.6" fill="#ffffff" fill-opacity="0.8" stroke="#d6d6d6" stroke-width="2.2"/>
<line x1="1004.7" y1="925.4" x2="1057.5" y2="925.4" stroke="#0000ff" stroke-width="4.8"/>
<circle cx="1031.1" cy="925.4" r="10.8" fill="#0000ff" stroke="#ffffff" stroke-width="5.0"/>
<text x="1074" y="934.7" font-size="24.0" fill="#000">P1</text>
<line x1="1148.7" y1="925.4" x2="1202.1" y2="925.4" stroke="#ff0000" stroke-width="4.8"/>
<circle cx="1175.4" cy="925.4" r="10.8" fill="#ff0000" stroke="#ffffff" stroke-width="5.0"/>
<text x="1219.3" y="934.7" font-size="24.0" fill="#000">P2</text>
<rect x="985.7" y="679" width="728.5" height="282" fill="none" stroke="#000" stroke-width="1.9"/>
<path d="M1018.81,961v8.2 M1079.02,961v8.2 M1139.23,961v8.2 M1199.43,961v8.2 M1259.64,961v8.2 M1319.85,961v8.2 M1380.05,961v8.2 M1440.26,961v8.2 M1500.47,961v8.2 M1560.67,961v8.2 M1620.88,961v8.2 M1681.09,961v8.2 M985.7,938.04h-8.2 M985.7,881.64h-8.2 M985.7,825.24h-8.2 M985.7,768.84h-8.2 M985.7,712.44h-8.2" stroke="#000" stroke-width="1.9" fill="none"/>
<text x="1018.81" y="999.7" font-size="28.9" text-anchor="middle" fill="#000">Jun</text>
<text x="1079.02" y="999.7" font-size="28.9" text-anchor="middle" fill="#000">July</text>
<text x="1139.23" y="999.7" font-size="28.9" text-anchor="middle" fill="#000">Aug</text>
<text x="1199.43" y="999.7" font-size="28.9" text-anchor="middle" fill="#000">Sep</text>
<text x="1259.64" y="999.7" font-size="28.9" text-anchor="middle" fill="#000">Oct</text>
<text x="1319.85" y="999.7" font-size="28.9" text-anchor="middle" fill="#000">Nov</text>
<text x="1380.05" y="999.7" font-size="28.9" text-anchor="middle" fill="#000">Dec</text>
<text x="1440.26" y="999.7" font-size="28.9" text-anchor="middle" fill="#000">Jan</text>
<text x="1500.47" y="999.7" font-size="28.9" text-anchor="middle" fill="#000">Feb</text>
<text x="1560.67" y="999.7" font-size="28.9" text-anchor="middle" fill="#000">Mar</text>
<text x="1620.88" y="999.7" font-size="28.9" text-anchor="middle" fill="#000">Apr</text>
<text x="1681.09" y="999.7" font-size="28.9" text-anchor="middle" fill="#000">May</text>
<text x="968.7" y="947.24" font-size="23.7" text-anchor="end" fill="#000">−1.0</text>
<text x="968.7" y="890.84" font-size="23.7" text-anchor="end" fill="#000">−0.5</text>
<text x="968.7" y="834.44" font-size="23.7" text-anchor="end" fill="#000">0.0</text>
<text x="968.7" y="778.04" font-size="23.7" text-anchor="end" fill="#000">0.5</text>
<text x="968.7" y="721.64" font-size="23.7" text-anchor="end" fill="#000">1.0</text>
<text transform="translate(897.5,822.8) rotate(-90)" font-size="28.2" text-anchor="middle" fill="#000">(°C/month)</text>
<g clip-path="url(#clipg)">
<polyline points="144.11,1162 204.31,1156.7 264.51,1150 324.7,1150.2 384.9,1152.8 445.1,1149 505.3,1148.1 565.5,1150.2 625.7,1155 685.89,1155 746.09,1155.4 806.29,1160" fill="none" stroke="#ff0000" stroke-width="4.8" stroke-linejoin="round" stroke-linecap="square"/>
<circle cx="144.11" cy="1162" r="10.8" fill="#ff0000" stroke="#ffffff" stroke-width="5.0"/>
<circle cx="204.31" cy="1156.7" r="10.8" fill="#ff0000" stroke="#ffffff" stroke-width="5.0"/>
<circle cx="264.51" cy="1150" r="10.8" fill="#ff0000" stroke="#ffffff" stroke-width="5.0"/>
<circle cx="324.7" cy="1150.2" r="10.8" fill="#ff0000" stroke="#ffffff" stroke-width="5.0"/>
<circle cx="384.9" cy="1152.8" r="10.8" fill="#ff0000" stroke="#ffffff" stroke-width="5.0"/>
<circle cx="445.1" cy="1149" r="10.8" fill="#ff0000" stroke="#ffffff" stroke-width="5.0"/>
<circle cx="505.3" cy="1148.1" r="10.8" fill="#ff0000" stroke="#ffffff" stroke-width="5.0"/>
<circle cx="565.5" cy="1150.2" r="10.8" fill="#ff0000" stroke="#ffffff" stroke-width="5.0"/>
<circle cx="625.7" cy="1155" r="10.8" fill="#ff0000" stroke="#ffffff" stroke-width="5.0"/>
<circle cx="685.89" cy="1155" r="10.8" fill="#ff0000" stroke="#ffffff" stroke-width="5.0"/>
<circle cx="746.09" cy="1155.4" r="10.8" fill="#ff0000" stroke="#ffffff" stroke-width="5.0"/>
<circle cx="806.29" cy="1160" r="10.8" fill="#ff0000" stroke="#ffffff" stroke-width="5.0"/>
<polyline points="144.11,1153.9 204.31,1142.1 264.51,1149.6 324.7,1145.9 384.9,1137.1 445.1,1133.9 505.3,1128.7 565.5,1130.8 625.7,1136.7 685.89,1139.5 746.09,1147.4 806.29,1157.6" fill="none" stroke="#0000ff" stroke-width="4.8" stroke-linejoin="round" stroke-linecap="square"/>
<circle cx="144.11" cy="1153.9" r="10.8" fill="#0000ff" stroke="#ffffff" stroke-width="5.0"/>
<circle cx="204.31" cy="1142.1" r="10.8" fill="#0000ff" stroke="#ffffff" stroke-width="5.0"/>
<circle cx="264.51" cy="1149.6" r="10.8" fill="#0000ff" stroke="#ffffff" stroke-width="5.0"/>
<circle cx="324.7" cy="1145.9" r="10.8" fill="#0000ff" stroke="#ffffff" stroke-width="5.0"/>
<circle cx="384.9" cy="1137.1" r="10.8" fill="#0000ff" stroke="#ffffff" stroke-width="5.0"/>
<circle cx="445.1" cy="1133.9" r="10.8" fill="#0000ff" stroke="#ffffff" stroke-width="5.0"/>
<circle cx="505.3" cy="1128.7" r="10.8" fill="#0000ff" stroke="#ffffff" stroke-width="5.0"/>
<circle cx="565.5" cy="1130.8" r="10.8" fill="#0000ff" stroke="#ffffff" stroke-width="5.0"/>
<circle cx="625.7" cy="1136.7" r="10.8" fill="#0000ff" stroke="#ffffff" stroke-width="5.0"/>
<circle cx="685.89" cy="1139.5" r="10.8" fill="#0000ff" stroke="#ffffff" stroke-width="5.0"/>
<circle cx="746.09" cy="1147.4" r="10.8" fill="#0000ff" stroke="#ffffff" stroke-width="5.0"/>
<circle cx="806.29" cy="1157.6" r="10.8" fill="#0000ff" stroke="#ffffff" stroke-width="5.0"/>
<polygon points="144.11,1139 204.31,1119.1 264.51,1122.6 324.7,1113 384.9,1101.7 445.1,1099.8 505.3,1100.5 565.5,1098.5 625.7,1108.6 685.89,1118.3 746.09,1133.4 806.29,1146.4 806.29,1166.9 746.09,1172 685.89,1175.5 625.7,1168 565.5,1165 505.3,1160 445.1,1152 384.9,1157.6 324.7,1175.8 264.51,1167 204.31,1165 144.11,1165.8" fill="#0000ff" fill-opacity="0.1" stroke="none"/>
<polygon points="144.11,1152 204.31,1143 264.51,1127.3 324.7,1127.3 384.9,1125 445.1,1120.3 505.3,1118 565.5,1116.2 625.7,1125 685.89,1131 746.09,1135.6 806.29,1145.3 806.29,1168 746.09,1174.4 685.89,1172.2 625.7,1168 565.5,1164.7 505.3,1163 445.1,1161.1 384.9,1163.4 324.7,1165 264.51,1167 204.31,1165.5 144.11,1166" fill="#ff0000" fill-opacity="0.1" stroke="none"/>
<line x1="111" y1="1163.44" x2="839.4" y2="1163.44" stroke="#000000" stroke-width="4.78" stroke-dasharray="17.7 7.66"/>
<line x1="535.4" y1="1299" x2="535.4" y2="1017" stroke="#808080" stroke-width="4.78" stroke-dasharray="17.7 7.66"/>
</g>
<text x="113.7" y="1050.9" font-size="28.8" fill="#000">(g)Mean horizontal currents</text>
<rect x="123" y="1244.2" width="259.6" height="42.2" rx="4.6" ry="4.6" fill="#ffffff" fill-opacity="0.8" stroke="#d6d6d6" stroke-width="2.2"/>
<line x1="130" y1="1263.4" x2="182.8" y2="1263.4" stroke="#0000ff" stroke-width="4.8"/>
<circle cx="156.4" cy="1263.4" r="10.8" fill="#0000ff" stroke="#ffffff" stroke-width="5.0"/>
<text x="199.3" y="1272.7" font-size="24.0" fill="#000">P1</text>
<line x1="274" y1="1263.4" x2="327.4" y2="1263.4" stroke="#ff0000" stroke-width="4.8"/>
<circle cx="300.7" cy="1263.4" r="10.8" fill="#ff0000" stroke="#ffffff" stroke-width="5.0"/>
<text x="344.6" y="1272.7" font-size="24.0" fill="#000">P2</text>
<rect x="111" y="1017" width="728.4" height="282" fill="none" stroke="#000" stroke-width="1.9"/>
<path d="M144.11,1299v8.2 M204.31,1299v8.2 M264.51,1299v8.2 M324.7,1299v8.2 M384.9,1299v8.2 M445.1,1299v8.2 M505.3,1299v8.2 M565.5,1299v8.2 M625.7,1299v8.2 M685.89,1299v8.2 M746.09,1299v8.2 M806.29,1299v8.2 M111,1276.16h-8.2 M111,1219.8h-8.2 M111,1163.44h-8.2 M111,1107.08h-8.2 M111,1050.72h-8.2" stroke="#000" stroke-width="1.9" fill="none"/>
<text x="144.11" y="1337.7" font-size="28.9" text-anchor="middle" fill="#000">Jun</text>
<text x="204.31" y="1337.7" font-size="28.9" text-anchor="middle" fill="#000">July</text>
<text x="264.51" y="1337.7" font-size="28.9" text-anchor="middle" fill="#000">Aug</text>
<text x="324.7" y="1337.7" font-size="28.9" text-anchor="middle" fill="#000">Sep</text>
<text x="384.9" y="1337.7" font-size="28.9" text-anchor="middle" fill="#000">Oct</text>
<text x="445.1" y="1337.7" font-size="28.9" text-anchor="middle" fill="#000">Nov</text>
<text x="505.3" y="1337.7" font-size="28.9" text-anchor="middle" fill="#000">Dec</text>
<text x="565.5" y="1337.7" font-size="28.9" text-anchor="middle" fill="#000">Jan</text>
<text x="625.7" y="1337.7" font-size="28.9" text-anchor="middle" fill="#000">Feb</text>
<text x="685.89" y="1337.7" font-size="28.9" text-anchor="middle" fill="#000">Mar</text>
<text x="746.09" y="1337.7" font-size="28.9" text-anchor="middle" fill="#000">Apr</text>
<text x="806.29" y="1337.7" font-size="28.9" text-anchor="middle" fill="#000">May</text>
<text x="94" y="1285.36" font-size="23.7" text-anchor="end" fill="#000">−1.0</text>
<text x="94" y="1229" font-size="23.7" text-anchor="end" fill="#000">−0.5</text>
<text x="94" y="1172.64" font-size="23.7" text-anchor="end" fill="#000">0.0</text>
<text x="94" y="1116.28" font-size="23.7" text-anchor="end" fill="#000">0.5</text>
<text x="94" y="1059.92" font-size="23.7" text-anchor="end" fill="#000">1.0</text>
<text transform="translate(22.8,1160.8) rotate(-90)" font-size="28.2" text-anchor="middle" fill="#000">(°C/month)</text>
<g clip-path="url(#cliph)">
<polyline points="1018.81,1159 1079.02,1152.5 1139.23,1156 1199.43,1151 1259.64,1147 1319.85,1156.1 1380.05,1158.3 1440.26,1171 1500.47,1167.7 1560.67,1163.4 1620.88,1163.5 1681.09,1168.4" fill="none" stroke="#ff0000" stroke-width="4.8" stroke-linejoin="round" stroke-linecap="square"/>
<circle cx="1018.81" cy="1159" r="10.8" fill="#ff0000" stroke="#ffffff" stroke-width="5.0"/>
<circle cx="1079.02" cy="1152.5" r="10.8" fill="#ff0000" stroke="#ffffff" stroke-width="5.0"/>
<circle cx="1139.23" cy="1156" r="10.8" fill="#ff0000" stroke="#ffffff" stroke-width="5.0"/>
<circle cx="1199.43" cy="1151" r="10.8" fill="#ff0000" stroke="#ffffff" stroke-width="5.0"/>
<circle cx="1259.64" cy="1147" r="10.8" fill="#ff0000" stroke="#ffffff" stroke-width="5.0"/>
<circle cx="1319.85" cy="1156.1" r="10.8" fill="#ff0000" stroke="#ffffff" stroke-width="5.0"/>
<circle cx="1380.05" cy="1158.3" r="10.8" fill="#ff0000" stroke="#ffffff" stroke-width="5.0"/>
<circle cx="1440.26" cy="1171" r="10.8" fill="#ff0000" stroke="#ffffff" stroke-width="5.0"/>
<circle cx="1500.47" cy="1167.7" r="10.8" fill="#ff0000" stroke="#ffffff" stroke-width="5.0"/>
<circle cx="1560.67" cy="1163.4" r="10.8" fill="#ff0000" stroke="#ffffff" stroke-width="5.0"/>
<circle cx="1620.88" cy="1163.5" r="10.8" fill="#ff0000" stroke="#ffffff" stroke-width="5.0"/>
<circle cx="1681.09" cy="1168.4" r="10.8" fill="#ff0000" stroke="#ffffff" stroke-width="5.0"/>
<polyline points="1018.81,1156.5 1079.02,1155.5 1139.23,1158.1 1199.43,1153.3 1259.64,1150.1 1319.85,1161.5 1380.05,1165.2 1440.26,1164.7 1500.47,1161.3 1560.67,1158.7 1620.88,1162.6 1681.09,1160.9" fill="none" stroke="#0000ff" stroke-width="4.8" stroke-linejoin="round" stroke-linecap="square"/>
<circle cx="1018.81" cy="1156.5" r="10.8" fill="#0000ff" stroke="#ffffff" stroke-width="5.0"/>
<circle cx="1079.02" cy="1155.5" r="10.8" fill="#0000ff" stroke="#ffffff" stroke-width="5.0"/>
<circle cx="1139.23" cy="1158.1" r="10.8" fill="#0000ff" stroke="#ffffff" stroke-width="5.0"/>
<circle cx="1199.43" cy="1153.3" r="10.8" fill="#0000ff" stroke="#ffffff" stroke-width="5.0"/>
<circle cx="1259.64" cy="1150.1" r="10.8" fill="#0000ff" stroke="#ffffff" stroke-width="5.0"/>
<circle cx="1319.85" cy="1161.5" r="10.8" fill="#0000ff" stroke="#ffffff" stroke-width="5.0"/>
<circle cx="1380.05" cy="1165.2" r="10.8" fill="#0000ff" stroke="#ffffff" stroke-width="5.0"/>
<circle cx="1440.26" cy="1164.7" r="10.8" fill="#0000ff" stroke="#ffffff" stroke-width="5.0"/>
<circle cx="1500.47" cy="1161.3" r="10.8" fill="#0000ff" stroke="#ffffff" stroke-width="5.0"/>
<circle cx="1560.67" cy="1158.7" r="10.8" fill="#0000ff" stroke="#ffffff" stroke-width="5.0"/>
<circle cx="1620.88" cy="1162.6" r="10.8" fill="#0000ff" stroke="#ffffff" stroke-width="5.0"/>
<circle cx="1681.09" cy="1160.9" r="10.8" fill="#0000ff" stroke="#ffffff" stroke-width="5.0"/>
<polygon points="1018.81,1135 1079.02,1145 1139.23,1149 1199.43,1145 1259.64,1132.8 1319.85,1138.2 1380.05,1151.2 1440.26,1156 1500.47,1144.7 1560.67,1132.8 1620.88,1141.4 1681.09,1153.3 1681.09,1168.4 1620.88,1183.5 1560.67,1187.8 1500.47,1181.3 1440.26,1177 1380.05,1180.3 1319.85,1184.6 1259.64,1168.4 1199.43,1173.8 1139.23,1166 1079.02,1166 1018.81,1187.8" fill="#0000ff" fill-opacity="0.1" stroke="none"/>
<polygon points="1018.81,1144.7 1079.02,1139.3 1139.23,1138.2 1199.43,1141.4 1259.64,1133.9 1319.85,1146.8 1380.05,1146.8 1440.26,1155.5 1500.47,1155.5 1560.67,1156.5 1620.88,1157.6 1681.09,1157.6 1681.09,1174.9 1620.88,1170.6 1560.67,1172.7 1500.47,1172.7 1440.26,1172.7 1380.05,1170.6 1319.85,1166.2 1259.64,1159.8 1199.43,1161.9 1139.23,1163 1079.02,1165.2 1018.81,1177" fill="#ff0000" fill-opacity="0.1" stroke="none"/>
<line x1="985.7" y1="1163.44" x2="1714.2" y2="1163.44" stroke="#000000" stroke-width="4.78" stroke-dasharray="17.7 7.66"/>
<line x1="1410.16" y1="1299" x2="1410.16" y2="1017" stroke="#808080" stroke-width="4.78" stroke-dasharray="17.7 7.66"/>
</g>
<text x="988.4" y="1050.9" font-size="28.8" fill="#000">(h)Meridional advective</text>
<rect x="997.7" y="1244.2" width="259.6" height="42.2" rx="4.6" ry="4.6" fill="#ffffff" fill-opacity="0.8" stroke="#d6d6d6" stroke-width="2.2"/>
<line x1="1004.7" y1="1263.4" x2="1057.5" y2="1263.4" stroke="#0000ff" stroke-width="4.8"/>
<circle cx="1031.1" cy="1263.4" r="10.8" fill="#0000ff" stroke="#ffffff" stroke-width="5.0"/>
<text x="1074" y="1272.7" font-size="24.0" fill="#000">P1</text>
<line x1="1148.7" y1="1263.4" x2="1202.1" y2="1263.4" stroke="#ff0000" stroke-width="4.8"/>
<circle cx="1175.4" cy="1263.4" r="10.8" fill="#ff0000" stroke="#ffffff" stroke-width="5.0"/>
<text x="1219.3" y="1272.7" font-size="24.0" fill="#000">P2</text>
<rect x="985.7" y="1017" width="728.5" height="282" fill="none" stroke="#000" stroke-width="1.9"/>
<path d="M1018.81,1299v8.2 M1079.02,1299v8.2 M1139.23,1299v8.2 M1199.43,1299v8.2 M1259.64,1299v8.2 M1319.85,1299v8.2 M1380.05,1299v8.2 M1440.26,1299v8.2 M1500.47,1299v8.2 M1560.67,1299v8.2 M1620.88,1299v8.2 M1681.09,1299v8.2 M985.7,1276.16h-8.2 M985.7,1219.8h-8.2 M985.7,1163.44h-8.2 M985.7,1107.08h-8.2 M985.7,1050.72h-8.2" stroke="#000" stroke-width="1.9" fill="none"/>
<text x="1018.81" y="1337.7" font-size="28.9" text-anchor="middle" fill="#000">Jun</text>
<text x="1079.02" y="1337.7" font-size="28.9" text-anchor="middle" fill="#000">July</text>
<text x="1139.23" y="1337.7" font-size="28.9" text-anchor="middle" fill="#000">Aug</text>
<text x="1199.43" y="1337.7" font-size="28.9" text-anchor="middle" fill="#000">Sep</text>
<text x="1259.64" y="1337.7" font-size="28.9" text-anchor="middle" fill="#000">Oct</text>
<text x="1319.85" y="1337.7" font-size="28.9" text-anchor="middle" fill="#000">Nov</text>
<text x="1380.05" y="1337.7" font-size="28.9" text-anchor="middle" fill="#000">Dec</text>
<text x="1440.26" y="1337.7" font-size="28.9" text-anchor="middle" fill="#000">Jan</text>
<text x="1500.47" y="1337.7" font-size="28.9" text-anchor="middle" fill="#000">Feb</text>
<text x="1560.67" y="1337.7" font-size="28.9" text-anchor="middle" fill="#000">Mar</text>
<text x="1620.88" y="1337.7" font-size="28.9" text-anchor="middle" fill="#000">Apr</text>
<text x="1681.09" y="1337.7" font-size="28.9" text-anchor="middle" fill="#000">May</text>
<text x="968.7" y="1285.36" font-size="23.7" text-anchor="end" fill="#000">−1.0</text>
<text x="968.7" y="1229" font-size="23.7" text-anchor="end" fill="#000">−0.5</text>
<text x="968.7" y="1172.64" font-size="23.7" text-anchor="end" fill="#000">0.0</text>
<text x="968.7" y="1116.28" font-size="23.7" text-anchor="end" fill="#000">0.5</text>
<text x="968.7" y="1059.92" font-size="23.7" text-anchor="end" fill="#000">1.0</text>
<text transform="translate(897.5,1160.8) rotate(-90)" font-size="28.2" text-anchor="middle" fill="#000">(°C/month)</text>
</svg>
</body></html>
